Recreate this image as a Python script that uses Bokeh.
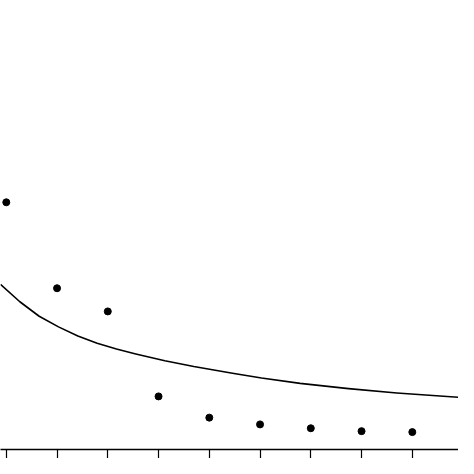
from bokeh.plotting import figure
from bokeh.models import Range1d, FixedTicker
from bokeh.embed import file_html
from bokeh.resources import INLINE

# Observed points (x category index, y value in arbitrary units)
point_x = [1, 2, 3, 4, 5, 6, 7, 8, 9]
point_y = [25.6, 16.7, 14.3, 5.5, 3.3, 2.6, 2.2, 1.9, 1.8]

# Fitted curve
curve_x = [0.886, 1.267, 1.648, 2.029, 2.410, 2.790, 3.171, 3.552, 4.124, 4.695,
           5.457, 6.029, 6.790, 7.743, 8.695, 9.910]
curve_y = [17.1, 15.3, 13.8, 12.7, 11.75, 11.0, 10.4, 9.9, 9.2, 8.6,
           7.9, 7.4, 6.85, 6.3, 5.85, 5.4]

tick_values = [1, 2, 3, 4, 5, 6, 7, 8, 9]

p = figure(width=458, height=458, output_backend="svg", toolbar_location=None,
           x_range=Range1d(0.886, 9.91), y_range=Range1d(0, 46.5),
           y_axis_location=None, min_border_left=0, min_border_right=0,
           min_border_top=0, min_border_bottom=0)
p.outline_line_color = None
p.xgrid.visible = False
p.ygrid.visible = False
p.background_fill_color = "white"
p.border_fill_color = "white"

p.xaxis.ticker = FixedTicker(ticks=tick_values)
p.xaxis.major_label_overrides = {t: "" for t in tick_values}
p.xaxis.major_label_standoff = 0
p.xaxis.major_tick_out = 9
p.xaxis.major_tick_in = 0
p.xaxis.minor_tick_out = 0
p.xaxis.minor_tick_in = 0
p.xaxis.axis_line_width = 1.5
p.xaxis.axis_line_color = "black"
p.xaxis.major_tick_line_color = "black"
p.xaxis.major_tick_line_width = 1.2

p.line(curve_x, curve_y, line_color="black", line_width=1.6, line_join="round")
p.scatter(point_x, point_y, size=7, fill_color="black", line_color="black")

open("out.html", "w").write(file_html(p, INLINE))
